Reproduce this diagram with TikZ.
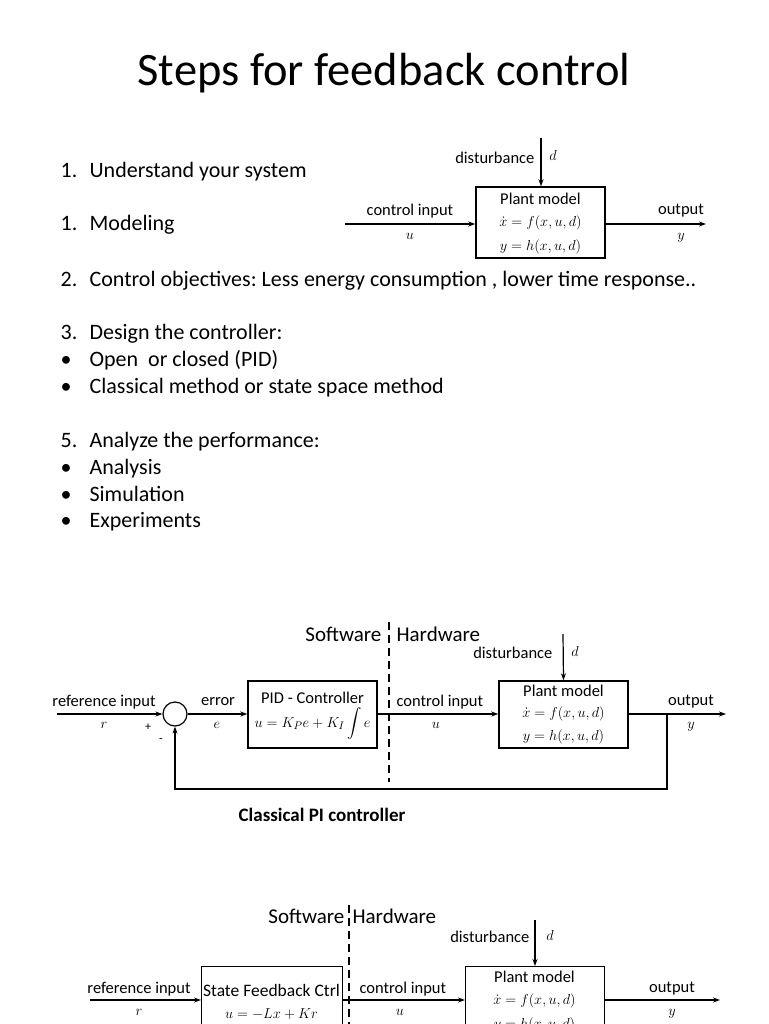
\documentclass[tikz,border=0pt]{standalone}
\usepackage{amsmath}
\usepackage{fontspec}
\setmainfont{Carlito}
\usetikzlibrary{arrows.meta}
\frenchspacing

\begin{document}
\begin{tikzpicture}[x=1pt,y=-1pt,>={Stealth[length=7pt,width=5pt]},line width=1.2pt]
    \tikzstyle{item}=[anchor=base west,inner sep=0pt,font=\fontsize{22}{26}\selectfont]
    \tikzstyle{block}=[draw,line width=1.4pt,inner sep=0pt]
    \tikzstyle{lbl}=[inner sep=0pt,font=\fontsize{16.5}{20}\selectfont]
    \tikzstyle{eqn}=[inner sep=0pt,text height=8pt,text depth=2pt,font=\fontsize{15}{18}\selectfont]
    \tikzstyle{side}=[inner sep=0pt,font=\fontsize{21}{25}\selectfont]
    \tikzstyle{border}=[dashed,line width=2.4pt,dash pattern=on 8pt off 5pt]

    \clip (0,0) rectangle (768,1024);
    \useasboundingbox (0,0) rectangle (768,1024);

    % Title
    \node[inner sep=0pt,font=\fontsize{46.5}{52}\selectfont] (title) at (384,73) {Steps for feedback control};

    % The list of steps
    \foreach \y / \num in {178/1., 231/1., 286/2., 339/3., 447/5.}
        \node[item] at (60,\y) {\num};
    \node[item] (s1) at (89,178) {Understand your system};
    \node[item] (s2) at (89,231) {Modeling};
    \node[item] (s3) at (89,286) {Control objectives: Less energy consumption , lower time response..};
    \node[item] (s4) at (89,339) {Design the controller:};
    \node[item] (s5) at (89,447) {Analyze the performance:};
    \foreach \y / \txt in {366/Open\ \ or closed (PID), 393/Classical method or state space method,
        474/Analysis, 501/Simulation, 527/Experiments}
    {
        \node[item] at (60,\y) {\textbullet};
        \node[item] at (89,\y) {\txt};
    }

    % First diagram: the plant alone
    \node[block,minimum width=129pt,minimum height=71pt] (P1) at (540.5,222.5) {};
    \node[lbl] at (540.5,199) {Plant model};
    \node[eqn] at (540.5,223) {$\dot{x} = f(x,u,d)$};
    \node[eqn] at (540.5,247) {$y = h(x,u,d)$};
    \coordinate (d1) at (541,138);
    \coordinate (u1) at (345,224);
    \coordinate (y1) at (706,224);
    \draw[->] (d1) -- (d1 |- P1.north);
    \draw[->] (u1) -- (u1 -| P1.west);
    \draw[->] (u1 -| P1.east) -- (y1);
    \node[lbl,anchor=east] at (535,158) {disturbance};
    \node[eqn] at (553,158) {$d$};
    \node[lbl] at (410,211) {control input};
    \node[eqn] at (410,237) {$u$};
    \node[lbl] at (681,211) {output};
    \node[eqn] at (681,237) {$y$};

    % Second diagram: classical PI loop
    \node[side,anchor=east] (sw2) at (382,634) {Software};
    \node[side,anchor=west] (hw2) at (396,634) {Hardware};
    \draw[border] (389,622) -- (389,782);
    \node[draw,circle,minimum size=24pt,inner sep=0pt] (S) at (175,714) {};
    \node[block,minimum width=129pt,minimum height=67pt] (PID) at (312.5,714.5) {};
    \node[lbl] at (312.5,698) {PID - Controller};
    \node[eqn] at (312.5,724) {$u = K_P e + K_I \,\smash{\displaystyle\int}\, e$};
    \node[block,minimum width=129pt,minimum height=67pt] (P2) at (563.5,714.5) {};
    \node[lbl] at (563.5,691) {Plant model};
    \node[eqn] at (563.5,714) {$\dot{x} = f(x,u,d)$};
    \node[eqn] at (563.5,737) {$y = h(x,u,d)$};
    \coordinate (r2) at (57,714);
    \coordinate (d2) at (563,634);
    \coordinate (y2) at (726,714);
    \coordinate (fb) at (667,714);
    \coordinate (fb2) at (667,789);
    \draw[->] (r2) -- (S.west);
    \draw[->] (S.east) -- (S.east -| PID.west);
    \draw[->] (S.east -| PID.east) -- (S.east -| P2.west);
    \draw[->] (S.east -| P2.east) -- (y2);
    \draw[->] (d2) -- (P2.north);
    \draw[->] (fb) -- (fb2) -| (S.south);
    \node[lbl] at (104,702) {reference input};
    \node[eqn] at (104,725) {$r$};
    \node[inner sep=0pt,font=\fontsize{12}{14}\selectfont] at (148,727) {+};
    \node[inner sep=0pt,font=\fontsize{12}{14}\selectfont] at (161,741) {-};
    \node[lbl] at (218,702) {error};
    \node[eqn] at (217,725) {$e$};
    \node[lbl,anchor=west] at (396,702) {control input};
    \node[eqn] at (436,725) {$u$};
    \node[lbl,anchor=east] at (553,653) {disturbance};
    \node[eqn] at (575,653) {$d$};
    \node[lbl] at (691,702) {output};
    \node[eqn] at (691,725) {$y$};
    \node[inner sep=0pt,font=\fontsize{19}{22}\selectfont\bfseries] (cap) at (322,815) {Classical PI controller};

    % Third diagram: state feedback
    \node[side,anchor=east] (sw3) at (345,916) {Software};
    \node[side,anchor=west] (hw3) at (352,916) {Hardware};
    \draw[border] (349,905) -- (349,1030);
    \node[block,minimum width=141pt,minimum height=79pt,anchor=north west] (SF) at (201,966) {};
    \node[lbl,font=\fontsize{17.5}{20}\selectfont] at (271.5,990) {State Feedback Ctrl};
    \node[eqn] at (271.5,1015) {$u = -Lx + Kr$};
    \node[block,minimum width=139pt,minimum height=79pt,anchor=north west] (P3) at (465,966) {};
    \node[lbl] at (534.5,977) {Plant model};
    \node[eqn] at (534.5,1001) {$\dot{x} = f(x,u,d)$};
    \node[eqn] at (534.5,1025) {$y = h(x,u,d)$};
    \coordinate (r3) at (90,1000);
    \coordinate (d3) at (535,920);
    \coordinate (y3) at (720,1000);
    \draw[->] (r3) -- (r3 -| SF.west);
    \draw[->] (r3 -| SF.east) -- (r3 -| P3.west);
    \draw[->] (r3 -| P3.east) -- (y3);
    \draw[->] (d3) -- (P3.north -| d3);
    \node[lbl] at (139,989) {reference input};
    \node[eqn] at (139,1012) {$r$};
    \node[lbl,anchor=west] at (359,989) {control input};
    \node[eqn] at (400,1012) {$u$};
    \node[lbl,anchor=east] at (530,937) {disturbance};
    \node[eqn] at (550,937) {$d$};
    \node[lbl] at (672,989) {output};
    \node[eqn] at (672,1012) {$y$};
\end{tikzpicture}
\end{document}
